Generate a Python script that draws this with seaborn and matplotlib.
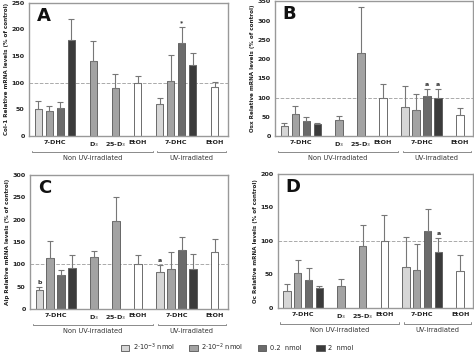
import numpy as np
import pandas as pd
import matplotlib
matplotlib.use("Agg")
import matplotlib.pyplot as plt
import matplotlib.transforms as mtransforms
from matplotlib.patches import Patch
import seaborn as sns

# bar order: non-UV 7-DHC x4, D3, 25-D3, EtOH, UV 7-DHC x4, EtOH
positions = [0, 1, 2, 3, 5, 7, 9, 11, 12, 13, 14, 16]
groups = ["c1", "c2", "c3", "c4", "c2", "c2", "et", "c1", "c2", "c3", "c4", "et"]

col1_mean = [50, 47, 53, 181, 140, 90, 100, 60, 103, 175, 134, 92]
col1_top = [65, 56, 63, 220, 179, 116, 112, 71, 153, 205, 155, 102]
osx_mean = [26, 58, 38, 30, 41, 215, 100, 76, 67, 103, 100, 55]
osx_top = [35, 77, 50, 33, 52, 335, 134, 129, 110, 121, 123, 74]
alp_mean = [43, 115, 77, 92, 117, 198, 100, 84, 90, 132, 89, 128]
alp_top = [50, 152, 87, 121, 130, 252, 122, 98, 127, 162, 124, 157]
oc_mean = [25, 52, 42, 29, 33, 93, 100, 61, 56, 115, 84, 55]
oc_top = [35, 72, 60, 33, 43, 124, 138, 106, 95, 148, 104, 79]

xtick_pos = [1.5, 5, 7, 9, 12.5, 16]
xtick_labels = ["7-DHC", "D$_3$", "25-D$_3$", "EtOH", "7-DHC", "EtOH"]
legend_labels = ["2·10$^{-3}$ nmol", "2·10$^{-2}$ nmol", "0.2  nmol", "2  nmol"]

palette = {"c1": "#d6d6d6", "c2": "#a3a3a3", "c3": "#6b6b6b", "c4": "#3b3b3b", "et": "#ffffff"}

panels = [
    ("A", "Col-1", col1_mean, col1_top, 250, {9: "*"}, [0.061, 0.618, 0.420, 0.374]),
    ("B", "Osx", osx_mean, osx_top, 350, {9: "a", 10: "a"}, [0.580, 0.618, 0.418, 0.378]),
    ("C", "Alp", alp_mean, alp_top, 300, {0: "b", 7: "a"}, [0.063, 0.132, 0.418, 0.376]),
    ("D", "Oc", oc_mean, oc_top, 200, {10: "a"}, [0.586, 0.136, 0.412, 0.375]),
]

sns.set_style("white")
plt.rcParams["font.family"] = ["DejaVu Sans"]

fig = plt.figure(figsize=(4.74, 3.56), dpi=100)

for letter, gene, mean, top, ymax, marks, rect in panels:
    ax = fig.add_axes(rect)
    df = pd.DataFrame({"pos": positions, "val": mean, "grp": groups})
    sns.barplot(data=df, x="pos", y="val", hue="grp", palette=palette,
                native_scale=True, dodge=False, width=0.67, legend=False,
                edgecolor="#555555", linewidth=0.6, errorbar=None, ax=ax)
    err = np.array(top) - np.array(mean)
    ax.errorbar(positions, mean, yerr=[np.zeros(len(err)), err], fmt="none",
                ecolor="#777777", elinewidth=0.8, capsize=2, capthick=0.8, zorder=1)
    ax.axhline(100, color="#aaaaaa", ls="--", lw=0.7, zorder=0)
    for i, m in marks.items():
        ax.text(positions[i], top[i] + ymax * 0.015, m, ha="center", va="bottom",
                fontsize=4.5, fontweight="bold", color="#333333")
    ax.set_xlim(-0.85, 17.2)
    ax.set_ylim(0, ymax)
    ax.set_yticks(np.arange(0, ymax + 1, 50))
    ax.set_xticks(xtick_pos)
    ax.set_xticklabels(xtick_labels)
    ax.tick_params(axis="both", labelsize=4.6, length=2, width=0.6, pad=1,
                   color="#777777", labelcolor="#222222")
    for lab in ax.get_xticklabels() + ax.get_yticklabels():
        lab.set_fontweight("bold")
    ax.set_xlabel("")
    ax.set_ylabel(gene + " Relative mRNA levels (% of control)", fontsize=4.1,
                  fontweight="bold", labelpad=2, color="#222222")
    for sp in ax.spines.values():
        sp.set_color("#999999")
        sp.set_linewidth(1.0)
    ax.text(0.04, 0.97, letter, transform=ax.transAxes, ha="left", va="top",
            fontsize=13, fontweight="bold", color="#111111")

    trans = mtransforms.blended_transform_factory(ax.transData, ax.transAxes)
    for x0, x1, text in [(-0.6, 10.4, "Non UV-irradiated"), (10.8, 17.0, "UV-irradiated")]:
        yb = -0.122
        ax.plot([x0, x0, x1, x1], [yb + 0.012, yb, yb, yb + 0.012], color="#777777",
                lw=0.6, transform=trans, clip_on=False)
        ax.text((x0 + x1) / 2, yb - 0.02, text, transform=trans, ha="center", va="top",
                fontsize=4.8, color="#333333")

handles = [Patch(facecolor=palette[k], edgecolor="#555555", linewidth=0.6)
           for k in ["c1", "c2", "c3", "c4"]]
fig.legend(handles, legend_labels, loc="center", bbox_to_anchor=(0.5, 0.025), ncol=4,
           frameon=False, fontsize=4.8, handlelength=1.3, handleheight=0.9,
           columnspacing=2.2, handletextpad=0.5)

fig.savefig("out.png", dpi=100)
